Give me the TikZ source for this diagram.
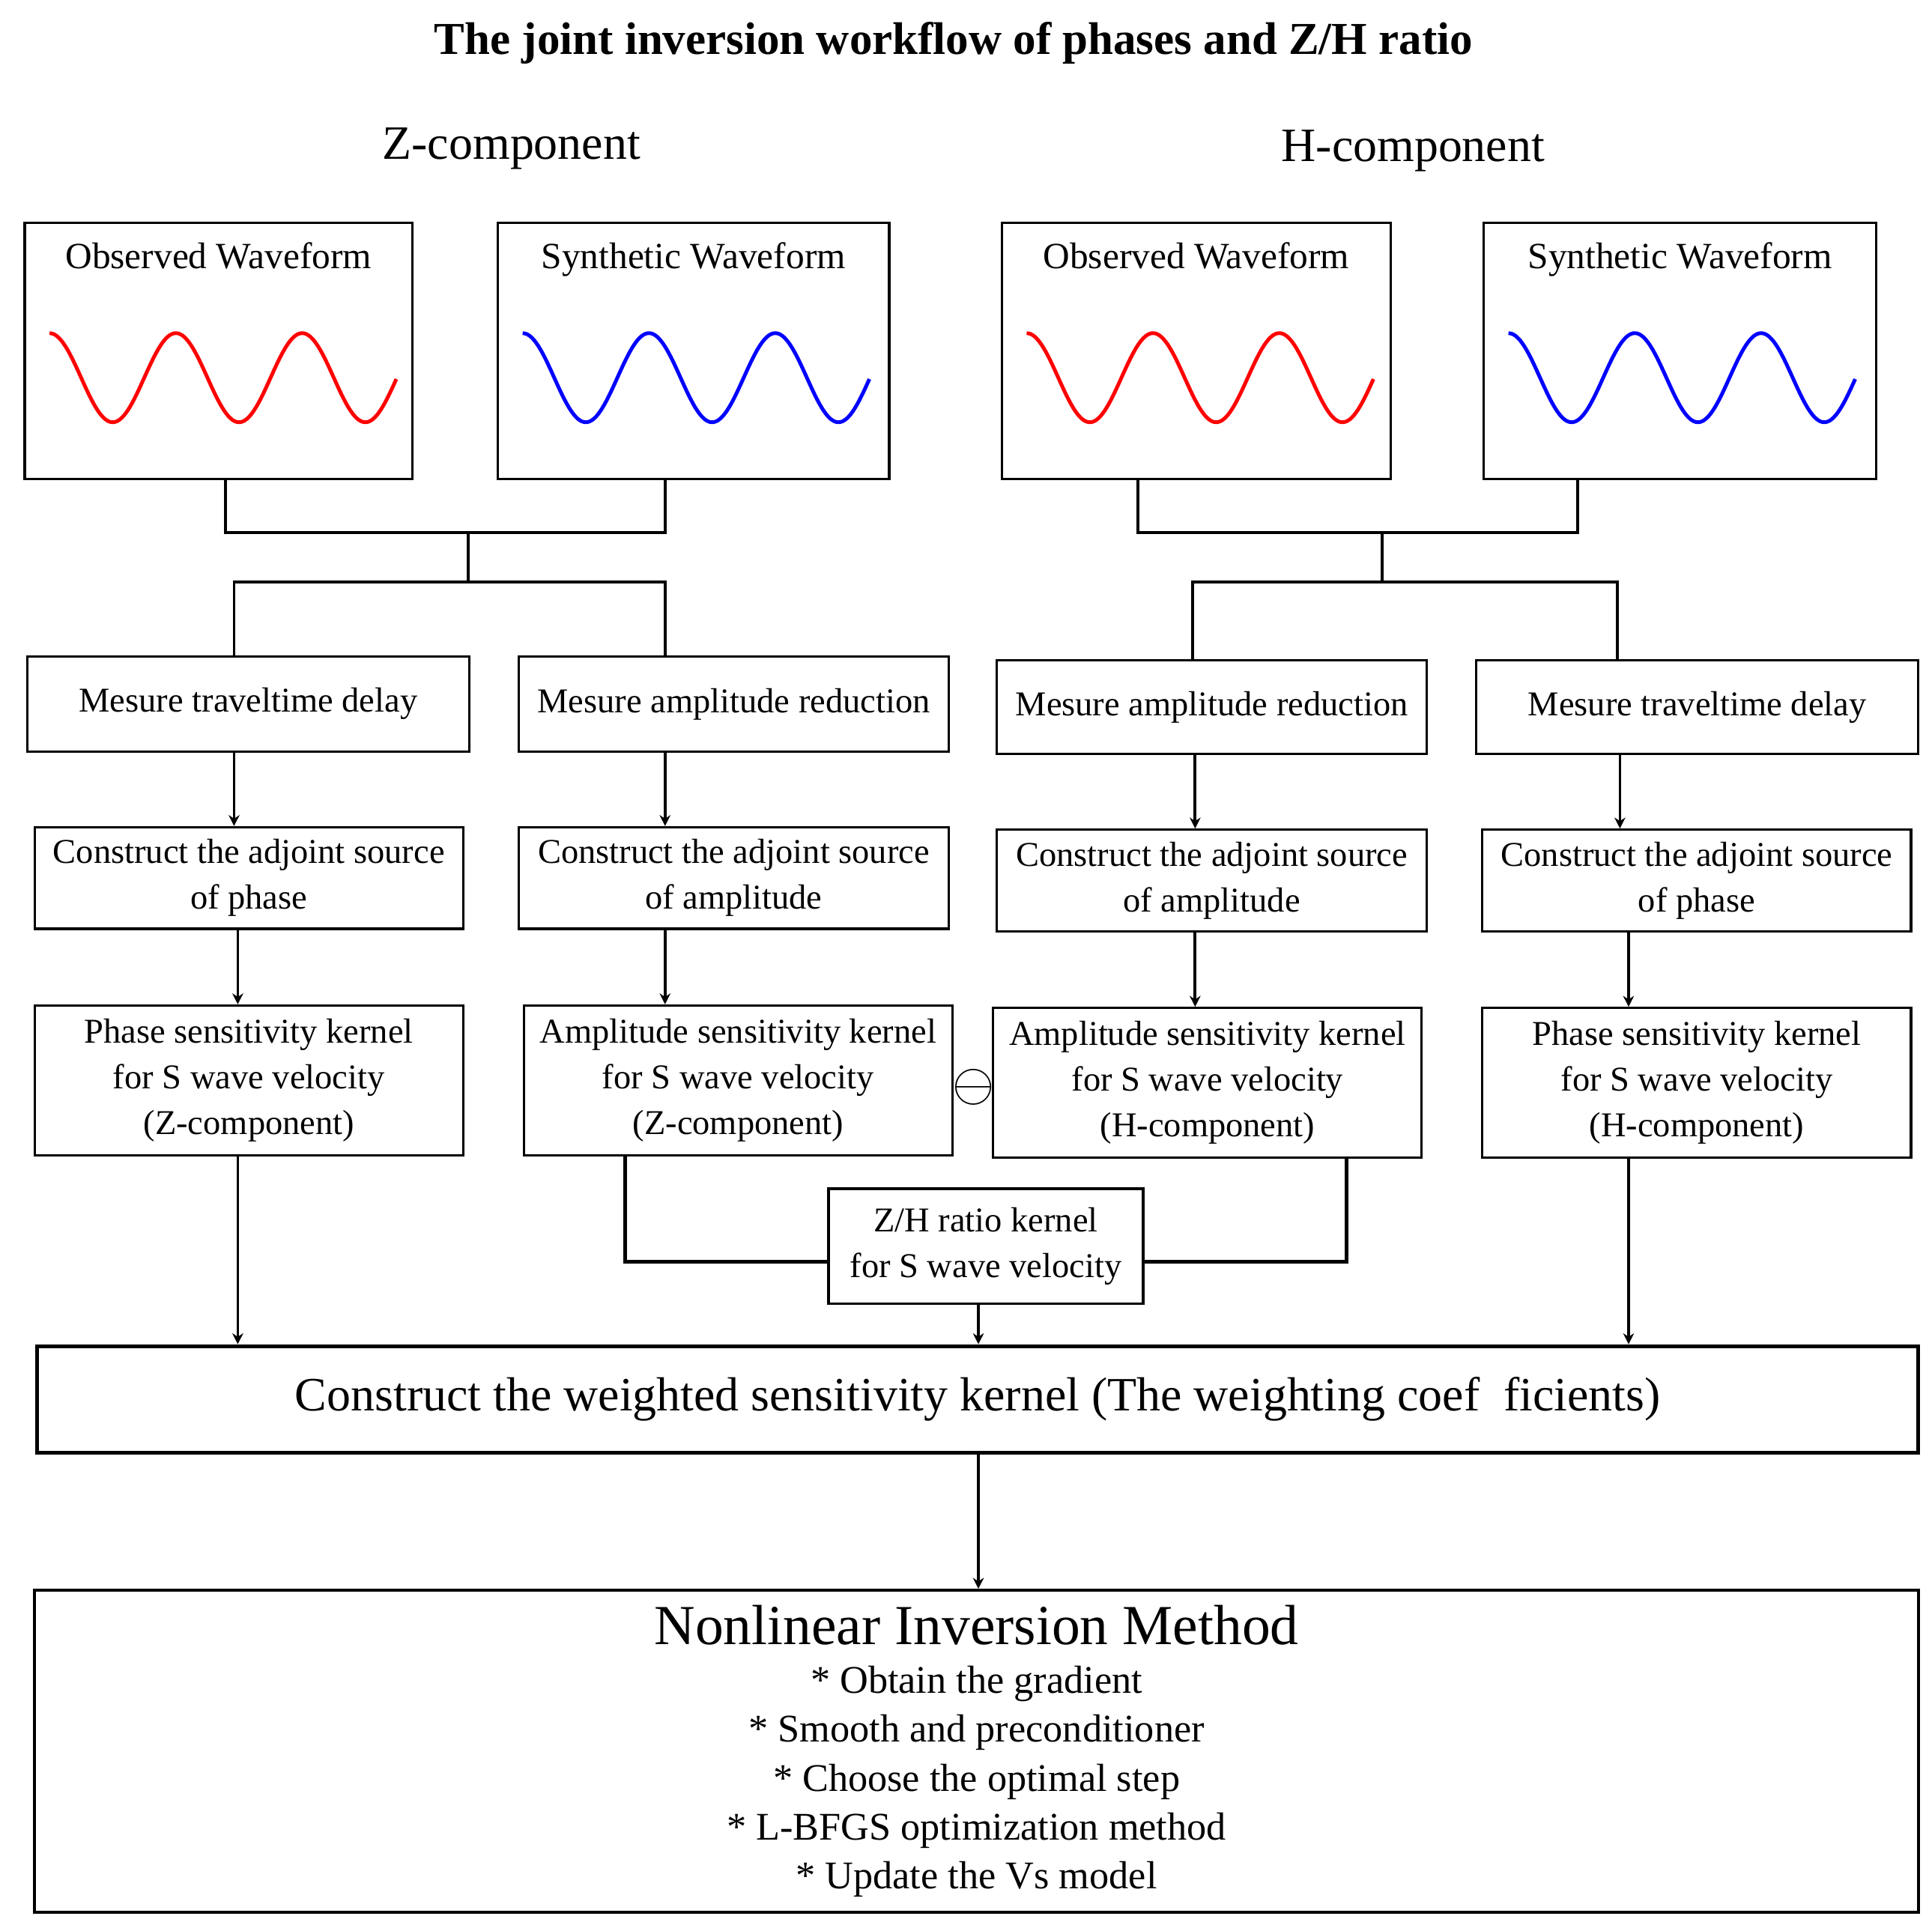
\documentclass[tikz,border=0pt]{standalone}
\usepackage{fontspec}
\setmainfont{Liberation Serif}
\usetikzlibrary{arrows.meta}
\tikzset{
  box/.style 2 args={draw, line width=1.1pt, minimum width=#1*0.02cm, minimum height=#2*0.02cm,
    align=center, inner sep=2pt, font=\fontsize{16}{21}\selectfont},
  link/.style={line width=1.3pt},
  arr/.style={line width=1.3pt, -{Stealth[length=5pt,width=5pt]}},
}
% sine wave inside a waveform box, starting at x = #1
\newcommand{\wavecurve}[2]{%
  \draw[#2, line width=1.7pt, smooth] plot[domain=0:280, samples=90]
    ({#1+20+\x},{305-36*sin(3.5294*(\x-102)+90)});}
\begin{document}
\begin{tikzpicture}[x=0.02cm, y=-0.02cm]
    \useasboundingbox (0,0) rectangle (1560,1552);

    % Titel
    \node[font=\fontsize{21}{25}\selectfont\bfseries] (title) at (770,35) {The joint inversion workflow of phases and Z/H ratio};
    \node[font=\fontsize{22}{26}\selectfont] (zcomp) at (413,120) {Z-component};
    \node[font=\fontsize{22}{26}\selectfont] (hcomp) at (1141,122) {H-component};

    % Wellenformen
    \foreach \n/\l/\r/\t/\c in {zo/20/333/Observed Waveform/red, zs/402/718/Synthetic Waveform/blue,
                                ho/809/1123/Observed Waveform/red, hs/1198/1515/Synthetic Waveform/blue} {
        \pgfmathsetmacro\w{\r-\l}
        \node[box={\w}{207}, label={[anchor=north, font=\fontsize{17}{21}\selectfont, yshift=-6pt]north:\t}]
            (\n) at ({(\l+\r)/2},283.5) {};
        \wavecurve{\l}{\c}
    }

    % Messungen
    \node[box={357}{77}] (zt) at (200.5,568.5) {Mesure traveltime delay};
    \node[box={347}{77}] (za) at (592.5,568.5) {Mesure amplitude reduction};
    \node[box={347}{76}] (ha) at (978.5,571) {Mesure amplitude reduction};
    \node[box={357}{76}] (ht) at (1370.5,571) {Mesure traveltime delay};

    % Adjungierte Quellen
    \node[box={346}{82}] (zpa) at (201,709) {Construct the adjoint source\\of phase};
    \node[box={347}{82}] (zaa) at (592.5,709) {Construct the adjoint source\\of amplitude};
    \node[box={347}{82}] (haa) at (978.5,711) {Construct the adjoint source\\of amplitude};
    \node[box={346}{82}] (hpa) at (1370,711) {Construct the adjoint source\\of phase};

    % Kerne
    \node[box={346}{121}] (zpk) at (201,872.5) {Phase sensitivity kernel\\for S wave velocity\\(Z-component)};
    \node[box={346}{121}] (zak) at (596,872.5) {Amplitude sensitivity kernel\\for S wave velocity\\(Z-component)};
    \node[box={346}{121}] (hak) at (975,874.5) {Amplitude sensitivity kernel\\for S wave velocity\\(H-component)};
    \node[box={346}{121}] (hpk) at (1370,874.5) {Phase sensitivity kernel\\for S wave velocity\\(H-component)};
    \node[font=\fontsize{24}{24}\selectfont] (minus) at (786,878) {$\ominus$};
    \node[box={254}{93}] (zh) at (796,1006.5) {Z/H ratio kernel\\for S wave velocity};

    \node[box={1519}{86}, line width=1.7pt, font=\fontsize{22}{26}\selectfont] (wk) at (789.5,1130)
        {Construct the weighted sensitivity kernel (The weighting coef\ \ ficients)};
    \node[box={1521}{260}, line width=1.3pt, font=\fontsize{18}{22.5}\selectfont, anchor=north, inner sep=4pt]
        (nl) at (788.5,1283) {{\fontsize{26}{30}\selectfont Nonlinear Inversion Method}\\
        * Obtain the gradient\\ * Smooth and preconditioner\\ * Choose the optimal step\\
        * L-BFGS optimization method\\ * Update the Vs model};

    % Verbindungen oben
    \coordinate (zm) at (378,430);
    \coordinate (hm) at (1116,430);
    \draw[link] (zo.south -| 182,0) |- (zm) -| (zs.south -| 537,0);
    \draw[link] (zm) -- (378,470) -| (zt.north -| 189,0);
    \draw[link] (378,470) -| (za.north -| 537,0);
    \draw[link] (ho.south -| 919,0) |- (hm) -| (hs.south -| 1274,0);
    \draw[link] (hm) -- (1116,470) -| (ha.north -| 963,0);
    \draw[link] (1116,470) -| (ht.north -| 1306,0);

    % Pfeile
    \draw[arr] (zt.south -| 189,0) -- (zpa.north -| 189,0);
    \draw[arr] (za.south -| 537,0) -- (zaa.north -| 537,0);
    \draw[arr] (ha.south -| 965,0) -- (haa.north -| 965,0);
    \draw[arr] (ht.south -| 1308,0) -- (hpa.north -| 1308,0);
    \draw[arr] (zpa.south -| 192,0) -- (zpk.north -| 192,0);
    \draw[arr] (zaa.south -| 537,0) -- (zak.north -| 537,0);
    \draw[arr] (haa.south -| 965,0) -- (hak.north -| 965,0);
    \draw[arr] (hpa.south -| 1315,0) -- (hpk.north -| 1315,0);

    \draw[link, line width=1.7pt] (zak.south -| 505,0) |- (zh.west |- 0,1019);
    \draw[link, line width=1.7pt] (hak.south -| 1087,0) |- (zh.east |- 0,1019);

    \draw[arr] (zpk.south -| 192,0) -- (wk.north -| 192,0);
    \draw[arr] (zh.south -| 790,0) -- (wk.north -| 790,0);
    \draw[arr] (hpk.south -| 1315,0) -- (wk.north -| 1315,0);
    \draw[arr] (wk.south -| 790,0) -- (nl.north -| 790,0);
\end{tikzpicture}
\end{document}
